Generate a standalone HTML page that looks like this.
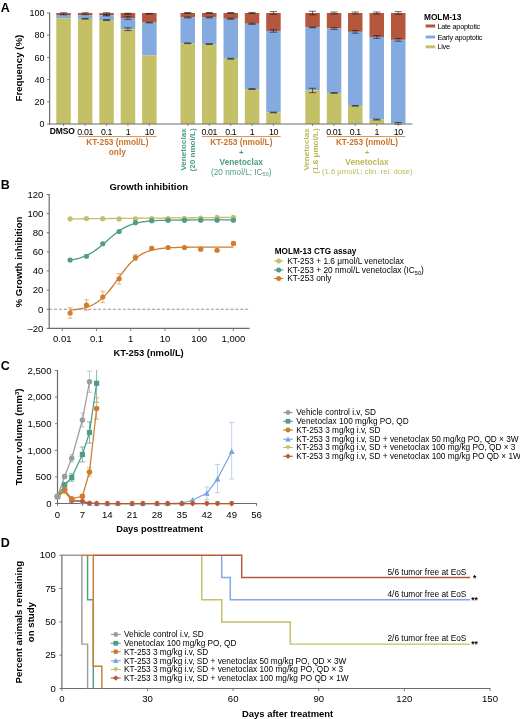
<!DOCTYPE html>
<html lang="en">
<head>
<meta charset="utf-8">
<title>KT-253 and venetoclax combination in MOLM-13</title>
<style>
html,body{margin:0;padding:0;background:#fff;}
body{width:520px;height:719px;overflow:hidden;}
svg{display:block;}
svg text{font-family:"Liberation Sans",Arial,Helvetica,sans-serif;}
</style>
</head>
<body>
<svg width="520" height="719" viewBox="0 0 520 719">
<rect x="0" y="0" width="520" height="719" fill="#ffffff"/>
<g id="panelA">
<text x="0.80" y="11.70" font-size="12.5" font-weight="bold" fill="#000" text-anchor="start">A</text>
<rect x="56.30" y="13.00" width="14.5" height="2.00" fill="#B4573C"/>
<rect x="56.30" y="15.00" width="14.5" height="3.22" fill="#85AAE0"/>
<rect x="56.30" y="18.22" width="14.5" height="105.78" fill="#C4C068"/>
<line x1="63.55" y1="12.78" x2="63.55" y2="14.78" stroke="#222" stroke-width="0.7"/>
<line x1="59.95" y1="12.78" x2="67.15" y2="12.78" stroke="#222" stroke-width="0.7"/>
<line x1="59.95" y1="14.78" x2="67.15" y2="14.78" stroke="#222" stroke-width="0.7"/>
<line x1="63.55" y1="124.00" x2="63.55" y2="126.00" stroke="#6c6c6c" stroke-width="0.8"/>
<rect x="77.90" y="13.00" width="14.5" height="2.22" fill="#B4573C"/>
<rect x="77.90" y="15.22" width="14.5" height="3.55" fill="#85AAE0"/>
<rect x="77.90" y="18.77" width="14.5" height="105.23" fill="#C4C068"/>
<line x1="85.15" y1="18.44" x2="85.15" y2="19.10" stroke="#222" stroke-width="0.7"/>
<line x1="81.55" y1="18.44" x2="88.75" y2="18.44" stroke="#222" stroke-width="0.7"/>
<line x1="81.55" y1="19.10" x2="88.75" y2="19.10" stroke="#222" stroke-width="0.7"/>
<line x1="85.15" y1="12.78" x2="85.15" y2="14.78" stroke="#222" stroke-width="0.7"/>
<line x1="81.55" y1="12.78" x2="88.75" y2="12.78" stroke="#222" stroke-width="0.7"/>
<line x1="81.55" y1="14.78" x2="88.75" y2="14.78" stroke="#222" stroke-width="0.7"/>
<line x1="85.15" y1="124.00" x2="85.15" y2="126.00" stroke="#6c6c6c" stroke-width="0.8"/>
<rect x="99.30" y="13.00" width="14.5" height="2.44" fill="#B4573C"/>
<rect x="99.30" y="15.44" width="14.5" height="4.66" fill="#85AAE0"/>
<rect x="99.30" y="20.10" width="14.5" height="103.90" fill="#C4C068"/>
<line x1="106.55" y1="19.66" x2="106.55" y2="20.55" stroke="#222" stroke-width="0.7"/>
<line x1="102.95" y1="19.66" x2="110.15" y2="19.66" stroke="#222" stroke-width="0.7"/>
<line x1="102.95" y1="20.55" x2="110.15" y2="20.55" stroke="#222" stroke-width="0.7"/>
<line x1="106.55" y1="15.00" x2="106.55" y2="15.89" stroke="#222" stroke-width="0.7"/>
<line x1="102.95" y1="15.00" x2="110.15" y2="15.00" stroke="#222" stroke-width="0.7"/>
<line x1="102.95" y1="15.89" x2="110.15" y2="15.89" stroke="#222" stroke-width="0.7"/>
<line x1="106.55" y1="12.78" x2="106.55" y2="14.78" stroke="#222" stroke-width="0.7"/>
<line x1="102.95" y1="12.78" x2="110.15" y2="12.78" stroke="#222" stroke-width="0.7"/>
<line x1="102.95" y1="14.78" x2="110.15" y2="14.78" stroke="#222" stroke-width="0.7"/>
<line x1="106.55" y1="124.00" x2="106.55" y2="126.00" stroke="#6c6c6c" stroke-width="0.8"/>
<rect x="120.70" y="13.00" width="14.5" height="5.00" fill="#B4573C"/>
<rect x="120.70" y="17.99" width="14.5" height="11.21" fill="#85AAE0"/>
<rect x="120.70" y="29.21" width="14.5" height="94.79" fill="#C4C068"/>
<line x1="127.95" y1="27.87" x2="127.95" y2="30.54" stroke="#222" stroke-width="0.7"/>
<line x1="124.35" y1="27.87" x2="131.55" y2="27.87" stroke="#222" stroke-width="0.7"/>
<line x1="124.35" y1="30.54" x2="131.55" y2="30.54" stroke="#222" stroke-width="0.7"/>
<line x1="127.95" y1="16.66" x2="127.95" y2="19.33" stroke="#222" stroke-width="0.7"/>
<line x1="124.35" y1="16.66" x2="131.55" y2="16.66" stroke="#222" stroke-width="0.7"/>
<line x1="124.35" y1="19.33" x2="131.55" y2="19.33" stroke="#222" stroke-width="0.7"/>
<line x1="127.95" y1="13.22" x2="127.95" y2="14.33" stroke="#222" stroke-width="0.7"/>
<line x1="124.35" y1="13.22" x2="131.55" y2="13.22" stroke="#222" stroke-width="0.7"/>
<line x1="124.35" y1="14.33" x2="131.55" y2="14.33" stroke="#222" stroke-width="0.7"/>
<line x1="127.95" y1="124.00" x2="127.95" y2="126.00" stroke="#6c6c6c" stroke-width="0.8"/>
<rect x="142.10" y="13.00" width="14.5" height="9.55" fill="#B4573C"/>
<rect x="142.10" y="22.55" width="14.5" height="32.97" fill="#85AAE0"/>
<rect x="142.10" y="55.51" width="14.5" height="68.49" fill="#C4C068"/>
<line x1="149.35" y1="22.21" x2="149.35" y2="22.88" stroke="#222" stroke-width="0.7"/>
<line x1="145.75" y1="22.21" x2="152.95" y2="22.21" stroke="#222" stroke-width="0.7"/>
<line x1="145.75" y1="22.88" x2="152.95" y2="22.88" stroke="#222" stroke-width="0.7"/>
<line x1="149.35" y1="13.44" x2="149.35" y2="14.11" stroke="#222" stroke-width="0.7"/>
<line x1="145.75" y1="13.44" x2="152.95" y2="13.44" stroke="#222" stroke-width="0.7"/>
<line x1="145.75" y1="14.11" x2="152.95" y2="14.11" stroke="#222" stroke-width="0.7"/>
<line x1="149.35" y1="124.00" x2="149.35" y2="126.00" stroke="#6c6c6c" stroke-width="0.8"/>
<rect x="180.50" y="13.00" width="14.5" height="4.44" fill="#B4573C"/>
<rect x="180.50" y="17.44" width="14.5" height="25.86" fill="#85AAE0"/>
<rect x="180.50" y="43.30" width="14.5" height="80.70" fill="#C4C068"/>
<line x1="187.75" y1="42.97" x2="187.75" y2="43.64" stroke="#222" stroke-width="0.7"/>
<line x1="184.15" y1="42.97" x2="191.35" y2="42.97" stroke="#222" stroke-width="0.7"/>
<line x1="184.15" y1="43.64" x2="191.35" y2="43.64" stroke="#222" stroke-width="0.7"/>
<line x1="187.75" y1="17.00" x2="187.75" y2="17.88" stroke="#222" stroke-width="0.7"/>
<line x1="184.15" y1="17.00" x2="191.35" y2="17.00" stroke="#222" stroke-width="0.7"/>
<line x1="184.15" y1="17.88" x2="191.35" y2="17.88" stroke="#222" stroke-width="0.7"/>
<line x1="187.75" y1="12.56" x2="187.75" y2="13.44" stroke="#222" stroke-width="0.7"/>
<line x1="184.15" y1="12.56" x2="191.35" y2="12.56" stroke="#222" stroke-width="0.7"/>
<line x1="184.15" y1="13.44" x2="191.35" y2="13.44" stroke="#222" stroke-width="0.7"/>
<line x1="187.75" y1="124.00" x2="187.75" y2="126.00" stroke="#6c6c6c" stroke-width="0.8"/>
<rect x="202.00" y="13.00" width="14.5" height="4.44" fill="#B4573C"/>
<rect x="202.00" y="17.44" width="14.5" height="26.64" fill="#85AAE0"/>
<rect x="202.00" y="44.08" width="14.5" height="79.92" fill="#C4C068"/>
<line x1="209.25" y1="43.75" x2="209.25" y2="44.41" stroke="#222" stroke-width="0.7"/>
<line x1="205.65" y1="43.75" x2="212.85" y2="43.75" stroke="#222" stroke-width="0.7"/>
<line x1="205.65" y1="44.41" x2="212.85" y2="44.41" stroke="#222" stroke-width="0.7"/>
<line x1="209.25" y1="17.00" x2="209.25" y2="17.88" stroke="#222" stroke-width="0.7"/>
<line x1="205.65" y1="17.00" x2="212.85" y2="17.00" stroke="#222" stroke-width="0.7"/>
<line x1="205.65" y1="17.88" x2="212.85" y2="17.88" stroke="#222" stroke-width="0.7"/>
<line x1="209.25" y1="12.56" x2="209.25" y2="13.44" stroke="#222" stroke-width="0.7"/>
<line x1="205.65" y1="12.56" x2="212.85" y2="12.56" stroke="#222" stroke-width="0.7"/>
<line x1="205.65" y1="13.44" x2="212.85" y2="13.44" stroke="#222" stroke-width="0.7"/>
<line x1="209.25" y1="124.00" x2="209.25" y2="126.00" stroke="#6c6c6c" stroke-width="0.8"/>
<rect x="223.50" y="13.00" width="14.5" height="5.77" fill="#B4573C"/>
<rect x="223.50" y="18.77" width="14.5" height="39.96" fill="#85AAE0"/>
<rect x="223.50" y="58.73" width="14.5" height="65.27" fill="#C4C068"/>
<line x1="230.75" y1="58.29" x2="230.75" y2="59.18" stroke="#222" stroke-width="0.7"/>
<line x1="227.15" y1="58.29" x2="234.35" y2="58.29" stroke="#222" stroke-width="0.7"/>
<line x1="227.15" y1="59.18" x2="234.35" y2="59.18" stroke="#222" stroke-width="0.7"/>
<line x1="230.75" y1="18.33" x2="230.75" y2="19.22" stroke="#222" stroke-width="0.7"/>
<line x1="227.15" y1="18.33" x2="234.35" y2="18.33" stroke="#222" stroke-width="0.7"/>
<line x1="227.15" y1="19.22" x2="234.35" y2="19.22" stroke="#222" stroke-width="0.7"/>
<line x1="230.75" y1="12.56" x2="230.75" y2="13.44" stroke="#222" stroke-width="0.7"/>
<line x1="227.15" y1="12.56" x2="234.35" y2="12.56" stroke="#222" stroke-width="0.7"/>
<line x1="227.15" y1="13.44" x2="234.35" y2="13.44" stroke="#222" stroke-width="0.7"/>
<line x1="230.75" y1="124.00" x2="230.75" y2="126.00" stroke="#6c6c6c" stroke-width="0.8"/>
<rect x="244.80" y="13.00" width="14.5" height="10.77" fill="#B4573C"/>
<rect x="244.80" y="23.77" width="14.5" height="65.27" fill="#85AAE0"/>
<rect x="244.80" y="89.03" width="14.5" height="34.97" fill="#C4C068"/>
<line x1="252.05" y1="88.70" x2="252.05" y2="89.37" stroke="#222" stroke-width="0.7"/>
<line x1="248.45" y1="88.70" x2="255.65" y2="88.70" stroke="#222" stroke-width="0.7"/>
<line x1="248.45" y1="89.37" x2="255.65" y2="89.37" stroke="#222" stroke-width="0.7"/>
<line x1="252.05" y1="23.21" x2="252.05" y2="24.32" stroke="#222" stroke-width="0.7"/>
<line x1="248.45" y1="23.21" x2="255.65" y2="23.21" stroke="#222" stroke-width="0.7"/>
<line x1="248.45" y1="24.32" x2="255.65" y2="24.32" stroke="#222" stroke-width="0.7"/>
<line x1="252.05" y1="12.44" x2="252.05" y2="13.55" stroke="#222" stroke-width="0.7"/>
<line x1="248.45" y1="12.44" x2="255.65" y2="12.44" stroke="#222" stroke-width="0.7"/>
<line x1="248.45" y1="13.55" x2="255.65" y2="13.55" stroke="#222" stroke-width="0.7"/>
<line x1="252.05" y1="124.00" x2="252.05" y2="126.00" stroke="#6c6c6c" stroke-width="0.8"/>
<rect x="266.20" y="13.00" width="14.5" height="17.98" fill="#B4573C"/>
<rect x="266.20" y="30.98" width="14.5" height="81.47" fill="#85AAE0"/>
<rect x="266.20" y="112.46" width="14.5" height="11.54" fill="#C4C068"/>
<line x1="273.45" y1="112.12" x2="273.45" y2="112.79" stroke="#222" stroke-width="0.7"/>
<line x1="269.85" y1="112.12" x2="277.05" y2="112.12" stroke="#222" stroke-width="0.7"/>
<line x1="269.85" y1="112.79" x2="277.05" y2="112.79" stroke="#222" stroke-width="0.7"/>
<line x1="273.45" y1="29.76" x2="273.45" y2="32.20" stroke="#222" stroke-width="0.7"/>
<line x1="269.85" y1="29.76" x2="277.05" y2="29.76" stroke="#222" stroke-width="0.7"/>
<line x1="269.85" y1="32.20" x2="277.05" y2="32.20" stroke="#222" stroke-width="0.7"/>
<line x1="273.45" y1="11.67" x2="273.45" y2="14.33" stroke="#222" stroke-width="0.7"/>
<line x1="269.85" y1="11.67" x2="277.05" y2="11.67" stroke="#222" stroke-width="0.7"/>
<line x1="269.85" y1="14.33" x2="277.05" y2="14.33" stroke="#222" stroke-width="0.7"/>
<line x1="273.45" y1="124.00" x2="273.45" y2="126.00" stroke="#6c6c6c" stroke-width="0.8"/>
<rect x="305.30" y="13.00" width="14.5" height="14.43" fill="#B4573C"/>
<rect x="305.30" y="27.43" width="14.5" height="63.05" fill="#85AAE0"/>
<rect x="305.30" y="90.48" width="14.5" height="33.52" fill="#C4C068"/>
<line x1="312.55" y1="88.26" x2="312.55" y2="92.70" stroke="#222" stroke-width="0.7"/>
<line x1="308.95" y1="88.26" x2="316.15" y2="88.26" stroke="#222" stroke-width="0.7"/>
<line x1="308.95" y1="92.70" x2="316.15" y2="92.70" stroke="#222" stroke-width="0.7"/>
<line x1="312.55" y1="27.10" x2="312.55" y2="27.76" stroke="#222" stroke-width="0.7"/>
<line x1="308.95" y1="27.10" x2="316.15" y2="27.10" stroke="#222" stroke-width="0.7"/>
<line x1="308.95" y1="27.76" x2="316.15" y2="27.76" stroke="#222" stroke-width="0.7"/>
<line x1="312.55" y1="11.22" x2="312.55" y2="14.78" stroke="#222" stroke-width="0.7"/>
<line x1="308.95" y1="11.22" x2="316.15" y2="11.22" stroke="#222" stroke-width="0.7"/>
<line x1="308.95" y1="14.78" x2="316.15" y2="14.78" stroke="#222" stroke-width="0.7"/>
<line x1="312.55" y1="124.00" x2="312.55" y2="126.00" stroke="#6c6c6c" stroke-width="0.8"/>
<rect x="326.80" y="13.00" width="14.5" height="15.54" fill="#B4573C"/>
<rect x="326.80" y="28.54" width="14.5" height="64.38" fill="#85AAE0"/>
<rect x="326.80" y="92.92" width="14.5" height="31.08" fill="#C4C068"/>
<line x1="334.05" y1="92.59" x2="334.05" y2="93.25" stroke="#222" stroke-width="0.7"/>
<line x1="330.45" y1="92.59" x2="337.65" y2="92.59" stroke="#222" stroke-width="0.7"/>
<line x1="330.45" y1="93.25" x2="337.65" y2="93.25" stroke="#222" stroke-width="0.7"/>
<line x1="334.05" y1="27.65" x2="334.05" y2="29.43" stroke="#222" stroke-width="0.7"/>
<line x1="330.45" y1="27.65" x2="337.65" y2="27.65" stroke="#222" stroke-width="0.7"/>
<line x1="330.45" y1="29.43" x2="337.65" y2="29.43" stroke="#222" stroke-width="0.7"/>
<line x1="334.05" y1="12.00" x2="334.05" y2="14.00" stroke="#222" stroke-width="0.7"/>
<line x1="330.45" y1="12.00" x2="337.65" y2="12.00" stroke="#222" stroke-width="0.7"/>
<line x1="330.45" y1="14.00" x2="337.65" y2="14.00" stroke="#222" stroke-width="0.7"/>
<line x1="334.05" y1="124.00" x2="334.05" y2="126.00" stroke="#6c6c6c" stroke-width="0.8"/>
<rect x="348.00" y="13.00" width="14.5" height="18.87" fill="#B4573C"/>
<rect x="348.00" y="31.87" width="14.5" height="73.93" fill="#85AAE0"/>
<rect x="348.00" y="105.80" width="14.5" height="18.20" fill="#C4C068"/>
<line x1="355.25" y1="105.46" x2="355.25" y2="106.13" stroke="#222" stroke-width="0.7"/>
<line x1="351.65" y1="105.46" x2="358.85" y2="105.46" stroke="#222" stroke-width="0.7"/>
<line x1="351.65" y1="106.13" x2="358.85" y2="106.13" stroke="#222" stroke-width="0.7"/>
<line x1="355.25" y1="30.54" x2="355.25" y2="33.20" stroke="#222" stroke-width="0.7"/>
<line x1="351.65" y1="30.54" x2="358.85" y2="30.54" stroke="#222" stroke-width="0.7"/>
<line x1="351.65" y1="33.20" x2="358.85" y2="33.20" stroke="#222" stroke-width="0.7"/>
<line x1="355.25" y1="12.00" x2="355.25" y2="14.00" stroke="#222" stroke-width="0.7"/>
<line x1="351.65" y1="12.00" x2="358.85" y2="12.00" stroke="#222" stroke-width="0.7"/>
<line x1="351.65" y1="14.00" x2="358.85" y2="14.00" stroke="#222" stroke-width="0.7"/>
<line x1="355.25" y1="124.00" x2="355.25" y2="126.00" stroke="#6c6c6c" stroke-width="0.8"/>
<rect x="369.50" y="13.00" width="14.5" height="23.98" fill="#B4573C"/>
<rect x="369.50" y="36.98" width="14.5" height="82.58" fill="#85AAE0"/>
<rect x="369.50" y="119.56" width="14.5" height="4.44" fill="#C4C068"/>
<line x1="376.75" y1="119.12" x2="376.75" y2="120.00" stroke="#222" stroke-width="0.7"/>
<line x1="373.15" y1="119.12" x2="380.35" y2="119.12" stroke="#222" stroke-width="0.7"/>
<line x1="373.15" y1="120.00" x2="380.35" y2="120.00" stroke="#222" stroke-width="0.7"/>
<line x1="376.75" y1="35.64" x2="376.75" y2="38.31" stroke="#222" stroke-width="0.7"/>
<line x1="373.15" y1="35.64" x2="380.35" y2="35.64" stroke="#222" stroke-width="0.7"/>
<line x1="373.15" y1="38.31" x2="380.35" y2="38.31" stroke="#222" stroke-width="0.7"/>
<line x1="376.75" y1="12.00" x2="376.75" y2="14.00" stroke="#222" stroke-width="0.7"/>
<line x1="373.15" y1="12.00" x2="380.35" y2="12.00" stroke="#222" stroke-width="0.7"/>
<line x1="373.15" y1="14.00" x2="380.35" y2="14.00" stroke="#222" stroke-width="0.7"/>
<line x1="376.75" y1="124.00" x2="376.75" y2="126.00" stroke="#6c6c6c" stroke-width="0.8"/>
<rect x="391.00" y="13.00" width="14.5" height="26.86" fill="#B4573C"/>
<rect x="391.00" y="39.86" width="14.5" height="83.58" fill="#85AAE0"/>
<rect x="391.00" y="123.44" width="14.5" height="0.56" fill="#C4C068"/>
<line x1="398.25" y1="122.56" x2="398.25" y2="124.33" stroke="#222" stroke-width="0.7"/>
<line x1="394.65" y1="122.56" x2="401.85" y2="122.56" stroke="#222" stroke-width="0.7"/>
<line x1="394.65" y1="124.33" x2="401.85" y2="124.33" stroke="#222" stroke-width="0.7"/>
<line x1="398.25" y1="38.53" x2="398.25" y2="41.19" stroke="#222" stroke-width="0.7"/>
<line x1="394.65" y1="38.53" x2="401.85" y2="38.53" stroke="#222" stroke-width="0.7"/>
<line x1="394.65" y1="41.19" x2="401.85" y2="41.19" stroke="#222" stroke-width="0.7"/>
<line x1="398.25" y1="11.67" x2="398.25" y2="14.33" stroke="#222" stroke-width="0.7"/>
<line x1="394.65" y1="11.67" x2="401.85" y2="11.67" stroke="#222" stroke-width="0.7"/>
<line x1="394.65" y1="14.33" x2="401.85" y2="14.33" stroke="#222" stroke-width="0.7"/>
<line x1="398.25" y1="124.00" x2="398.25" y2="126.00" stroke="#6c6c6c" stroke-width="0.8"/>
<line x1="49.60" y1="12.50" x2="49.60" y2="124.50" stroke="#6c6c6c" stroke-width="1.2"/>
<line x1="49.10" y1="124.00" x2="412.50" y2="124.00" stroke="#6c6c6c" stroke-width="1.2"/>
<line x1="47.00" y1="124.00" x2="49.60" y2="124.00" stroke="#6c6c6c" stroke-width="0.9"/>
<text x="44.60" y="127.20" font-size="9" font-weight="normal" fill="#000" text-anchor="end">0</text>
<line x1="47.00" y1="101.80" x2="49.60" y2="101.80" stroke="#6c6c6c" stroke-width="0.9"/>
<text x="44.60" y="105.00" font-size="9" font-weight="normal" fill="#000" text-anchor="end">20</text>
<line x1="47.00" y1="79.60" x2="49.60" y2="79.60" stroke="#6c6c6c" stroke-width="0.9"/>
<text x="44.60" y="82.80" font-size="9" font-weight="normal" fill="#000" text-anchor="end">40</text>
<line x1="47.00" y1="57.40" x2="49.60" y2="57.40" stroke="#6c6c6c" stroke-width="0.9"/>
<text x="44.60" y="60.60" font-size="9" font-weight="normal" fill="#000" text-anchor="end">60</text>
<line x1="47.00" y1="35.20" x2="49.60" y2="35.20" stroke="#6c6c6c" stroke-width="0.9"/>
<text x="44.60" y="38.40" font-size="9" font-weight="normal" fill="#000" text-anchor="end">80</text>
<line x1="47.00" y1="13.00" x2="49.60" y2="13.00" stroke="#6c6c6c" stroke-width="0.9"/>
<text x="44.60" y="16.20" font-size="9" font-weight="normal" fill="#000" text-anchor="end">100</text>
<text transform="translate(22.40,68.10) rotate(-90)" font-size="9.7" font-weight="bold" fill="#000" text-anchor="middle">Frequency (%)</text>
<text x="62.25" y="134.20" font-size="8.5" font-weight="bold" fill="#000" text-anchor="middle" letter-spacing="-0.1">DMSO</text>
<text x="85.15" y="134.60" font-size="8.8" font-weight="normal" fill="#000" text-anchor="middle" letter-spacing="-0.35">0.01</text>
<text x="106.55" y="134.60" font-size="8.8" font-weight="normal" fill="#000" text-anchor="middle" letter-spacing="-0.35">0.1</text>
<text x="127.95" y="134.60" font-size="8.8" font-weight="normal" fill="#000" text-anchor="middle" letter-spacing="-0.35">1</text>
<text x="149.35" y="134.60" font-size="8.8" font-weight="normal" fill="#000" text-anchor="middle" letter-spacing="-0.35">10</text>
<text x="209.25" y="134.60" font-size="8.8" font-weight="normal" fill="#000" text-anchor="middle" letter-spacing="-0.35">0.01</text>
<text x="230.75" y="134.60" font-size="8.8" font-weight="normal" fill="#000" text-anchor="middle" letter-spacing="-0.35">0.1</text>
<text x="252.05" y="134.60" font-size="8.8" font-weight="normal" fill="#000" text-anchor="middle" letter-spacing="-0.35">1</text>
<text x="273.45" y="134.60" font-size="8.8" font-weight="normal" fill="#000" text-anchor="middle" letter-spacing="-0.35">10</text>
<text x="334.05" y="134.60" font-size="8.8" font-weight="normal" fill="#000" text-anchor="middle" letter-spacing="-0.35">0.01</text>
<text x="355.25" y="134.60" font-size="8.8" font-weight="normal" fill="#000" text-anchor="middle" letter-spacing="-0.35">0.1</text>
<text x="376.75" y="134.60" font-size="8.8" font-weight="normal" fill="#000" text-anchor="middle" letter-spacing="-0.35">1</text>
<text x="398.25" y="134.60" font-size="8.8" font-weight="normal" fill="#000" text-anchor="middle" letter-spacing="-0.35">10</text>
<line x1="78.00" y1="136.60" x2="156.60" y2="136.60" stroke="#C8742B" stroke-width="0.8"/>
<text x="117.30" y="145.30" font-size="8.3" font-weight="bold" fill="#C8742B" text-anchor="middle">KT-253 (nmol/L)</text>
<text x="117.30" y="154.90" font-size="8.3" font-weight="bold" fill="#C8742B" text-anchor="middle">only</text>
<text transform="translate(185.50,128.30) rotate(-90)" font-size="8.1" font-weight="bold" fill="#4F9C88" text-anchor="end">Venetoclax</text>
<text transform="translate(194.80,128.30) rotate(-90)" font-size="8.1" font-weight="bold" fill="#4F9C88" text-anchor="end">(20 nmol/L)</text>
<line x1="202.00" y1="136.60" x2="280.60" y2="136.60" stroke="#C8742B" stroke-width="0.8"/>
<text x="241.30" y="145.30" font-size="8.3" font-weight="bold" fill="#C8742B" text-anchor="middle">KT-253 (nmol/L)</text>
<text x="241.30" y="155.40" font-size="8" font-weight="bold" fill="#4F9C88" text-anchor="middle">+</text>
<text x="241.30" y="164.60" font-size="8.3" font-weight="bold" fill="#4F9C88" text-anchor="middle">Venetoclax</text>
<text x="241.30" y="174.80" font-size="8.2" font-weight="normal" fill="#4F9C88" text-anchor="middle">(20 nmol/L; IC<tspan font-size="5.6" dy="1.6">50</tspan><tspan dy="-1.6">)</tspan></text>
<text transform="translate(308.70,128.30) rotate(-90)" font-size="8.1" font-weight="bold" fill="#BDB95A" text-anchor="end">Venetoclax</text>
<text transform="translate(318.20,128.30) rotate(-90)" font-size="8.1" font-weight="bold" fill="#BDB95A" text-anchor="end">(1.6 μmol/L)</text>
<line x1="327.00" y1="136.60" x2="405.30" y2="136.60" stroke="#C8742B" stroke-width="0.8"/>
<text x="367.00" y="145.30" font-size="8.3" font-weight="bold" fill="#C8742B" text-anchor="middle">KT-253 (nmol/L)</text>
<text x="367.00" y="155.40" font-size="8" font-weight="bold" fill="#BDB95A" text-anchor="middle">+</text>
<text x="367.00" y="164.60" font-size="8.3" font-weight="bold" fill="#BDB95A" text-anchor="middle">Venetoclax</text>
<text x="367.30" y="174.20" font-size="7.7" font-weight="normal" fill="#BDB95A" text-anchor="middle">(1.6 μmol/L; clin. rel. dose)</text>
<text x="424.00" y="20.00" font-size="8.3" font-weight="bold" fill="#000" text-anchor="start">MOLM-13</text>
<rect x="425.6" y="24.50" width="9.6" height="3" fill="#B4573C"/>
<text x="437.40" y="28.60" font-size="7.3" font-weight="normal" fill="#000" text-anchor="start" letter-spacing="-0.23">Late apoptotic</text>
<rect x="425.6" y="35.50" width="9.6" height="3" fill="#85AAE0"/>
<text x="437.40" y="39.60" font-size="7.3" font-weight="normal" fill="#000" text-anchor="start" letter-spacing="-0.23">Early apoptotic</text>
<rect x="425.6" y="45.30" width="9.6" height="3" fill="#C4C068"/>
<text x="437.40" y="49.40" font-size="7.3" font-weight="normal" fill="#000" text-anchor="start" letter-spacing="-0.23">Live</text>
</g>
<g id="panelB">
<text x="0.70" y="189.40" font-size="12.5" font-weight="bold" fill="#000" text-anchor="start">B</text>
<line x1="49.20" y1="194.00" x2="49.20" y2="328.88" stroke="#6c6c6c" stroke-width="1.2"/>
<line x1="48.70" y1="328.38" x2="249.60" y2="328.38" stroke="#6c6c6c" stroke-width="1.2"/>
<line x1="46.60" y1="328.38" x2="49.20" y2="328.38" stroke="#6c6c6c" stroke-width="0.9"/>
<text x="43.30" y="331.68" font-size="9.5" font-weight="normal" fill="#000" text-anchor="end">–20</text>
<line x1="46.60" y1="309.25" x2="49.20" y2="309.25" stroke="#6c6c6c" stroke-width="0.9"/>
<text x="43.30" y="312.55" font-size="9.5" font-weight="normal" fill="#000" text-anchor="end">0</text>
<line x1="46.60" y1="290.12" x2="49.20" y2="290.12" stroke="#6c6c6c" stroke-width="0.9"/>
<text x="43.30" y="293.43" font-size="9.5" font-weight="normal" fill="#000" text-anchor="end">20</text>
<line x1="46.60" y1="271.00" x2="49.20" y2="271.00" stroke="#6c6c6c" stroke-width="0.9"/>
<text x="43.30" y="274.30" font-size="9.5" font-weight="normal" fill="#000" text-anchor="end">40</text>
<line x1="46.60" y1="251.88" x2="49.20" y2="251.88" stroke="#6c6c6c" stroke-width="0.9"/>
<text x="43.30" y="255.18" font-size="9.5" font-weight="normal" fill="#000" text-anchor="end">60</text>
<line x1="46.60" y1="232.75" x2="49.20" y2="232.75" stroke="#6c6c6c" stroke-width="0.9"/>
<text x="43.30" y="236.05" font-size="9.5" font-weight="normal" fill="#000" text-anchor="end">80</text>
<line x1="46.60" y1="213.62" x2="49.20" y2="213.62" stroke="#6c6c6c" stroke-width="0.9"/>
<text x="43.30" y="216.93" font-size="9.5" font-weight="normal" fill="#000" text-anchor="end">100</text>
<line x1="46.60" y1="194.50" x2="49.20" y2="194.50" stroke="#6c6c6c" stroke-width="0.9"/>
<text x="43.30" y="197.80" font-size="9.5" font-weight="normal" fill="#000" text-anchor="end">120</text>
<line x1="62.30" y1="328.38" x2="62.30" y2="330.98" stroke="#6c6c6c" stroke-width="0.9"/>
<text x="62.30" y="342.10" font-size="9.5" font-weight="normal" fill="#000" text-anchor="middle">0.01</text>
<line x1="96.52" y1="328.38" x2="96.52" y2="330.98" stroke="#6c6c6c" stroke-width="0.9"/>
<text x="96.52" y="342.10" font-size="9.5" font-weight="normal" fill="#000" text-anchor="middle">0.1</text>
<line x1="130.74" y1="328.38" x2="130.74" y2="330.98" stroke="#6c6c6c" stroke-width="0.9"/>
<text x="130.74" y="342.10" font-size="9.5" font-weight="normal" fill="#000" text-anchor="middle">1</text>
<line x1="164.96" y1="328.38" x2="164.96" y2="330.98" stroke="#6c6c6c" stroke-width="0.9"/>
<text x="164.96" y="342.10" font-size="9.5" font-weight="normal" fill="#000" text-anchor="middle">10</text>
<line x1="199.18" y1="328.38" x2="199.18" y2="330.98" stroke="#6c6c6c" stroke-width="0.9"/>
<text x="199.18" y="342.10" font-size="9.5" font-weight="normal" fill="#000" text-anchor="middle">100</text>
<line x1="233.40" y1="328.38" x2="233.40" y2="330.98" stroke="#6c6c6c" stroke-width="0.9"/>
<text x="233.40" y="342.10" font-size="9.5" font-weight="normal" fill="#000" text-anchor="middle">1,000</text>
<line x1="49.20" y1="309.25" x2="249.60" y2="309.25" stroke="#777" stroke-width="0.8" stroke-dasharray="3 1.9"/>
<text transform="translate(22.30,262.00) rotate(-90)" font-size="9.65" font-weight="bold" fill="#000" text-anchor="middle">% Growth inhibition</text>
<text x="148.80" y="189.80" font-size="9.5" font-weight="bold" fill="#000" text-anchor="middle">Growth inhibition</text>
<text x="148.60" y="356.40" font-size="9.4" font-weight="bold" fill="#000" text-anchor="middle">KT-253 (nmol/L)</text>
<polyline points="70.13,218.88 71.49,218.87 72.85,218.86 74.21,218.84 75.57,218.83 76.93,218.82 78.29,218.81 79.65,218.79 81.01,218.78 82.37,218.77 83.74,218.76 85.10,218.74 86.46,218.73 87.82,218.72 89.18,218.71 90.54,218.69 91.90,218.68 93.26,218.67 94.62,218.66 95.98,218.64 97.34,218.63 98.70,218.62 100.06,218.61 101.42,218.59 102.78,218.58 104.14,218.57 105.50,218.56 106.87,218.54 108.23,218.53 109.59,218.52 110.95,218.51 112.31,218.49 113.67,218.48 115.03,218.47 116.39,218.46 117.75,218.44 119.11,218.43 120.47,218.42 121.83,218.40 123.19,218.39 124.55,218.38 125.91,218.37 127.27,218.35 128.63,218.34 130.00,218.33 131.36,218.32 132.72,218.30 134.08,218.29 135.44,218.28 136.80,218.27 138.16,218.25 139.52,218.24 140.88,218.23 142.24,218.22 143.60,218.20 144.96,218.19 146.32,218.18 147.68,218.17 149.04,218.15 150.40,218.14 151.76,218.13 153.13,218.12 154.49,218.10 155.85,218.09 157.21,218.08 158.57,218.07 159.93,218.05 161.29,218.04 162.65,218.03 164.01,218.02 165.37,218.00 166.73,217.99 168.09,217.98 169.45,217.97 170.81,217.95 172.17,217.94 173.53,217.93 174.89,217.92 176.26,217.90 177.62,217.89 178.98,217.88 180.34,217.87 181.70,217.85 183.06,217.84 184.42,217.83 185.78,217.82 187.14,217.80 188.50,217.79 189.86,217.78 191.22,217.76 192.58,217.75 193.94,217.74 195.30,217.73 196.66,217.71 198.02,217.70 199.39,217.69 200.75,217.68 202.11,217.66 203.47,217.65 204.83,217.64 206.19,217.63 207.55,217.61 208.91,217.60 210.27,217.59 211.63,217.58 212.99,217.56 214.35,217.55 215.71,217.54 217.07,217.53 218.43,217.51 219.79,217.50 221.15,217.49 222.52,217.48 223.88,217.46 225.24,217.45 226.60,217.44 227.96,217.43 229.32,217.41 230.68,217.40 232.04,217.39 233.40,217.38" fill="none" stroke="#C4C068" stroke-width="1.3" stroke-linejoin="round"/>
<circle cx="70.13" cy="218.79" r="2.6" fill="#C4C068"/>
<circle cx="86.46" cy="218.60" r="2.6" fill="#C4C068"/>
<circle cx="102.78" cy="218.69" r="2.6" fill="#C4C068"/>
<circle cx="119.11" cy="218.88" r="2.6" fill="#C4C068"/>
<circle cx="135.44" cy="218.79" r="2.6" fill="#C4C068"/>
<circle cx="151.76" cy="218.50" r="2.6" fill="#C4C068"/>
<circle cx="168.09" cy="218.60" r="2.6" fill="#C4C068"/>
<circle cx="184.42" cy="218.41" r="2.6" fill="#C4C068"/>
<circle cx="200.75" cy="218.02" r="2.6" fill="#C4C068"/>
<circle cx="217.07" cy="217.45" r="2.6" fill="#C4C068"/>
<circle cx="233.40" cy="217.45" r="2.6" fill="#C4C068"/>
<polyline points="70.13,260.08 71.49,259.87 72.85,259.64 74.21,259.38 75.57,259.09 76.93,258.77 78.29,258.42 79.65,258.04 81.01,257.62 82.37,257.15 83.74,256.65 85.10,256.10 86.46,255.50 87.82,254.85 89.18,254.16 90.54,253.41 91.90,252.60 93.26,251.75 94.62,250.84 95.98,249.88 97.34,248.88 98.70,247.83 100.06,246.74 101.42,245.61 102.78,244.46 104.14,243.28 105.50,242.09 106.87,240.89 108.23,239.69 109.59,238.50 110.95,237.32 112.31,236.17 113.67,235.04 115.03,233.96 116.39,232.91 117.75,231.91 119.11,230.95 120.47,230.05 121.83,229.19 123.19,228.40 124.55,227.65 125.91,226.95 127.27,226.31 128.63,225.72 130.00,225.17 131.36,224.67 132.72,224.21 134.08,223.79 135.44,223.41 136.80,223.06 138.16,222.74 139.52,222.46 140.88,222.20 142.24,221.97 143.60,221.76 144.96,221.57 146.32,221.40 147.68,221.24 149.04,221.11 150.40,220.98 151.76,220.87 153.13,220.77 154.49,220.68 155.85,220.60 157.21,220.53 158.57,220.47 159.93,220.41 161.29,220.36 162.65,220.32 164.01,220.28 165.37,220.24 166.73,220.21 168.09,220.18 169.45,220.15 170.81,220.13 172.17,220.11 173.53,220.09 174.89,220.07 176.26,220.06 177.62,220.04 178.98,220.03 180.34,220.02 181.70,220.01 183.06,220.01 184.42,220.00 185.78,219.99 187.14,219.99 188.50,219.98 189.86,219.98 191.22,219.97 192.58,219.97 193.94,219.96 195.30,219.96 196.66,219.96 198.02,219.96 199.39,219.95 200.75,219.95 202.11,219.95 203.47,219.95 204.83,219.95 206.19,219.95 207.55,219.95 208.91,219.94 210.27,219.94 211.63,219.94 212.99,219.94 214.35,219.94 215.71,219.94 217.07,219.94 218.43,219.94 219.79,219.94 221.15,219.94 222.52,219.94 223.88,219.94 225.24,219.94 226.60,219.94 227.96,219.94 229.32,219.94 230.68,219.94 232.04,219.94 233.40,219.94" fill="none" stroke="#4F9C88" stroke-width="1.3" stroke-linejoin="round"/>
<line x1="70.13" y1="259.05" x2="70.13" y2="260.96" stroke="#4F9C88" stroke-width="0.7"/>
<circle cx="70.13" cy="260.00" r="2.6" fill="#4F9C88"/>
<line x1="86.46" y1="255.32" x2="86.46" y2="257.23" stroke="#4F9C88" stroke-width="0.7"/>
<circle cx="86.46" cy="256.27" r="2.6" fill="#4F9C88"/>
<line x1="102.78" y1="242.60" x2="102.78" y2="244.89" stroke="#4F9C88" stroke-width="0.7"/>
<circle cx="102.78" cy="243.75" r="2.6" fill="#4F9C88"/>
<line x1="119.11" y1="230.36" x2="119.11" y2="232.65" stroke="#4F9C88" stroke-width="0.7"/>
<circle cx="119.11" cy="231.51" r="2.6" fill="#4F9C88"/>
<line x1="135.44" y1="221.75" x2="135.44" y2="223.67" stroke="#4F9C88" stroke-width="0.7"/>
<circle cx="135.44" cy="222.71" r="2.6" fill="#4F9C88"/>
<circle cx="151.76" cy="220.70" r="2.6" fill="#4F9C88"/>
<circle cx="168.09" cy="220.32" r="2.6" fill="#4F9C88"/>
<circle cx="184.42" cy="220.32" r="2.6" fill="#4F9C88"/>
<circle cx="200.75" cy="220.22" r="2.6" fill="#4F9C88"/>
<circle cx="217.07" cy="220.13" r="2.6" fill="#4F9C88"/>
<circle cx="233.40" cy="220.13" r="2.6" fill="#4F9C88"/>
<polyline points="70.13,310.19 71.49,310.07 72.85,309.94 74.21,309.78 75.57,309.61 76.93,309.42 78.29,309.21 79.65,308.97 81.01,308.71 82.37,308.41 83.74,308.08 85.10,307.71 86.46,307.30 87.82,306.84 89.18,306.34 90.54,305.78 91.90,305.16 93.26,304.48 94.62,303.74 95.98,302.92 97.34,302.03 98.70,301.05 100.06,300.00 101.42,298.86 102.78,297.63 104.14,296.32 105.50,294.92 106.87,293.43 108.23,291.87 109.59,290.22 110.95,288.51 112.31,286.74 113.67,284.92 115.03,283.06 116.39,281.17 117.75,279.27 119.11,277.36 120.47,275.47 121.83,273.60 123.19,271.77 124.55,269.99 125.91,268.27 127.27,266.62 128.63,265.04 130.00,263.55 131.36,262.13 132.72,260.81 134.08,259.57 135.44,258.42 136.80,257.35 138.16,256.37 139.52,255.46 140.88,254.63 142.24,253.88 143.60,253.19 144.96,252.56 146.32,252.00 147.68,251.48 149.04,251.02 150.40,250.60 151.76,250.23 153.13,249.89 154.49,249.59 155.85,249.32 157.21,249.08 158.57,248.86 159.93,248.67 161.29,248.50 162.65,248.34 164.01,248.20 165.37,248.08 166.73,247.97 168.09,247.87 169.45,247.79 170.81,247.71 172.17,247.64 173.53,247.58 174.89,247.53 176.26,247.48 177.62,247.44 178.98,247.40 180.34,247.36 181.70,247.33 183.06,247.31 184.42,247.28 185.78,247.26 187.14,247.24 188.50,247.23 189.86,247.21 191.22,247.20 192.58,247.19 193.94,247.18 195.30,247.17 196.66,247.16 198.02,247.15 199.39,247.14 200.75,247.14 202.11,247.13 203.47,247.13 204.83,247.13 206.19,247.12 207.55,247.12 208.91,247.12 210.27,247.11 211.63,247.11 212.99,247.11 214.35,247.11 215.71,247.11 217.07,247.10 218.43,247.10 219.79,247.10 221.15,247.10 222.52,247.10 223.88,247.10 225.24,247.10 226.60,247.10 227.96,247.10 229.32,247.10 230.68,247.10 232.04,247.10 233.40,247.10" fill="none" stroke="#D07C2E" stroke-width="1.3" stroke-linejoin="round"/>
<line x1="70.13" y1="307.72" x2="70.13" y2="318.24" stroke="#E0A060" stroke-width="0.8"/>
<line x1="67.73" y1="307.72" x2="72.53" y2="307.72" stroke="#E0A060" stroke-width="0.8"/>
<line x1="67.73" y1="318.24" x2="72.53" y2="318.24" stroke="#E0A060" stroke-width="0.8"/>
<circle cx="70.13" cy="312.98" r="2.6" fill="#D07C2E"/>
<line x1="86.46" y1="299.78" x2="86.46" y2="310.30" stroke="#E0A060" stroke-width="0.8"/>
<line x1="84.06" y1="299.78" x2="88.86" y2="299.78" stroke="#E0A060" stroke-width="0.8"/>
<line x1="84.06" y1="310.30" x2="88.86" y2="310.30" stroke="#E0A060" stroke-width="0.8"/>
<circle cx="86.46" cy="305.04" r="2.6" fill="#D07C2E"/>
<line x1="102.78" y1="291.27" x2="102.78" y2="302.75" stroke="#E0A060" stroke-width="0.8"/>
<line x1="100.38" y1="291.27" x2="105.18" y2="291.27" stroke="#E0A060" stroke-width="0.8"/>
<line x1="100.38" y1="302.75" x2="105.18" y2="302.75" stroke="#E0A060" stroke-width="0.8"/>
<circle cx="102.78" cy="297.01" r="2.6" fill="#D07C2E"/>
<line x1="119.11" y1="273.49" x2="119.11" y2="284.00" stroke="#E0A060" stroke-width="0.8"/>
<line x1="116.71" y1="273.49" x2="121.51" y2="273.49" stroke="#E0A060" stroke-width="0.8"/>
<line x1="116.71" y1="284.00" x2="121.51" y2="284.00" stroke="#E0A060" stroke-width="0.8"/>
<circle cx="119.11" cy="278.75" r="2.6" fill="#D07C2E"/>
<line x1="135.44" y1="254.74" x2="135.44" y2="260.48" stroke="#E0A060" stroke-width="0.8"/>
<line x1="133.04" y1="254.74" x2="137.84" y2="254.74" stroke="#E0A060" stroke-width="0.8"/>
<line x1="133.04" y1="260.48" x2="137.84" y2="260.48" stroke="#E0A060" stroke-width="0.8"/>
<circle cx="135.44" cy="257.61" r="2.6" fill="#D07C2E"/>
<line x1="151.76" y1="247.09" x2="151.76" y2="249.39" stroke="#E0A060" stroke-width="0.8"/>
<line x1="149.36" y1="247.09" x2="154.16" y2="247.09" stroke="#E0A060" stroke-width="0.8"/>
<line x1="149.36" y1="249.39" x2="154.16" y2="249.39" stroke="#E0A060" stroke-width="0.8"/>
<circle cx="151.76" cy="248.24" r="2.6" fill="#D07C2E"/>
<line x1="168.09" y1="246.71" x2="168.09" y2="248.24" stroke="#E0A060" stroke-width="0.8"/>
<line x1="165.69" y1="246.71" x2="170.49" y2="246.71" stroke="#E0A060" stroke-width="0.8"/>
<line x1="165.69" y1="248.24" x2="170.49" y2="248.24" stroke="#E0A060" stroke-width="0.8"/>
<circle cx="168.09" cy="247.48" r="2.6" fill="#D07C2E"/>
<line x1="184.42" y1="246.71" x2="184.42" y2="248.24" stroke="#E0A060" stroke-width="0.8"/>
<line x1="182.02" y1="246.71" x2="186.82" y2="246.71" stroke="#E0A060" stroke-width="0.8"/>
<line x1="182.02" y1="248.24" x2="186.82" y2="248.24" stroke="#E0A060" stroke-width="0.8"/>
<circle cx="184.42" cy="247.48" r="2.6" fill="#D07C2E"/>
<line x1="200.75" y1="248.43" x2="200.75" y2="249.96" stroke="#E0A060" stroke-width="0.8"/>
<line x1="198.35" y1="248.43" x2="203.15" y2="248.43" stroke="#E0A060" stroke-width="0.8"/>
<line x1="198.35" y1="249.96" x2="203.15" y2="249.96" stroke="#E0A060" stroke-width="0.8"/>
<circle cx="200.75" cy="249.20" r="2.6" fill="#D07C2E"/>
<line x1="217.07" y1="249.48" x2="217.07" y2="251.01" stroke="#E0A060" stroke-width="0.8"/>
<line x1="214.67" y1="249.48" x2="219.47" y2="249.48" stroke="#E0A060" stroke-width="0.8"/>
<line x1="214.67" y1="251.01" x2="219.47" y2="251.01" stroke="#E0A060" stroke-width="0.8"/>
<circle cx="217.07" cy="250.25" r="2.6" fill="#D07C2E"/>
<line x1="233.40" y1="242.03" x2="233.40" y2="244.89" stroke="#E0A060" stroke-width="0.8"/>
<line x1="231.00" y1="242.03" x2="235.80" y2="242.03" stroke="#E0A060" stroke-width="0.8"/>
<line x1="231.00" y1="244.89" x2="235.80" y2="244.89" stroke="#E0A060" stroke-width="0.8"/>
<circle cx="233.40" cy="243.46" r="2.6" fill="#D07C2E"/>
<text x="274.80" y="253.70" font-size="8.2" font-weight="bold" fill="#000" text-anchor="start">MOLM-13 CTG assay</text>
<line x1="274.00" y1="261.10" x2="283.40" y2="261.10" stroke="#C4C068" stroke-width="1.1"/>
<circle cx="278.7" cy="261.1" r="2.5" fill="#C4C068"/>
<text x="287.20" y="264.00" font-size="8.3" font-weight="normal" fill="#000" text-anchor="start">KT-253 + 1.6 μmol/L venetoclax</text>
<line x1="274.00" y1="270.00" x2="283.40" y2="270.00" stroke="#4F9C88" stroke-width="1.1"/>
<circle cx="278.7" cy="270.0" r="2.5" fill="#4F9C88"/>
<text x="287.20" y="272.90" font-size="8.3" font-weight="normal" fill="#000" text-anchor="start">KT-253 + 20 nmol/L venetoclax (IC<tspan font-size="5.6" dy="1.6">50</tspan><tspan dy="-1.6">)</tspan></text>
<line x1="274.00" y1="278.50" x2="283.40" y2="278.50" stroke="#D07C2E" stroke-width="1.1"/>
<circle cx="278.7" cy="278.5" r="2.5" fill="#D07C2E"/>
<text x="287.20" y="281.40" font-size="8.3" font-weight="normal" fill="#000" text-anchor="start">KT-253 only</text>
</g>
<g id="panelC">
<text x="0.70" y="370.10" font-size="12.5" font-weight="bold" fill="#000" text-anchor="start">C</text>
<line x1="57.50" y1="370.00" x2="57.50" y2="504.00" stroke="#6c6c6c" stroke-width="1.2"/>
<line x1="57.00" y1="503.50" x2="256.80" y2="503.50" stroke="#6c6c6c" stroke-width="1.2"/>
<line x1="54.90" y1="503.50" x2="57.50" y2="503.50" stroke="#6c6c6c" stroke-width="0.9"/>
<text x="51.50" y="506.80" font-size="9.6" font-weight="normal" fill="#000" text-anchor="end">0</text>
<line x1="54.90" y1="476.90" x2="57.50" y2="476.90" stroke="#6c6c6c" stroke-width="0.9"/>
<text x="51.50" y="480.20" font-size="9.6" font-weight="normal" fill="#000" text-anchor="end">500</text>
<line x1="54.90" y1="450.30" x2="57.50" y2="450.30" stroke="#6c6c6c" stroke-width="0.9"/>
<text x="51.50" y="453.60" font-size="9.6" font-weight="normal" fill="#000" text-anchor="end">1,000</text>
<line x1="54.90" y1="423.70" x2="57.50" y2="423.70" stroke="#6c6c6c" stroke-width="0.9"/>
<text x="51.50" y="427.00" font-size="9.6" font-weight="normal" fill="#000" text-anchor="end">1,500</text>
<line x1="54.90" y1="397.10" x2="57.50" y2="397.10" stroke="#6c6c6c" stroke-width="0.9"/>
<text x="51.50" y="400.40" font-size="9.6" font-weight="normal" fill="#000" text-anchor="end">2,000</text>
<line x1="54.90" y1="370.50" x2="57.50" y2="370.50" stroke="#6c6c6c" stroke-width="0.9"/>
<text x="51.50" y="373.80" font-size="9.6" font-weight="normal" fill="#000" text-anchor="end">2,500</text>
<line x1="57.50" y1="503.50" x2="57.50" y2="506.10" stroke="#6c6c6c" stroke-width="0.9"/>
<text x="57.50" y="517.70" font-size="9.6" font-weight="normal" fill="#000" text-anchor="middle">0</text>
<line x1="82.39" y1="503.50" x2="82.39" y2="506.10" stroke="#6c6c6c" stroke-width="0.9"/>
<text x="82.39" y="517.70" font-size="9.6" font-weight="normal" fill="#000" text-anchor="middle">7</text>
<line x1="107.27" y1="503.50" x2="107.27" y2="506.10" stroke="#6c6c6c" stroke-width="0.9"/>
<text x="107.27" y="517.70" font-size="9.6" font-weight="normal" fill="#000" text-anchor="middle">14</text>
<line x1="132.16" y1="503.50" x2="132.16" y2="506.10" stroke="#6c6c6c" stroke-width="0.9"/>
<text x="132.16" y="517.70" font-size="9.6" font-weight="normal" fill="#000" text-anchor="middle">21</text>
<line x1="157.04" y1="503.50" x2="157.04" y2="506.10" stroke="#6c6c6c" stroke-width="0.9"/>
<text x="157.04" y="517.70" font-size="9.6" font-weight="normal" fill="#000" text-anchor="middle">28</text>
<line x1="181.93" y1="503.50" x2="181.93" y2="506.10" stroke="#6c6c6c" stroke-width="0.9"/>
<text x="181.93" y="517.70" font-size="9.6" font-weight="normal" fill="#000" text-anchor="middle">35</text>
<line x1="206.81" y1="503.50" x2="206.81" y2="506.10" stroke="#6c6c6c" stroke-width="0.9"/>
<text x="206.81" y="517.70" font-size="9.6" font-weight="normal" fill="#000" text-anchor="middle">42</text>
<line x1="231.70" y1="503.50" x2="231.70" y2="506.10" stroke="#6c6c6c" stroke-width="0.9"/>
<text x="231.70" y="517.70" font-size="9.6" font-weight="normal" fill="#000" text-anchor="middle">49</text>
<line x1="256.59" y1="503.50" x2="256.59" y2="506.10" stroke="#6c6c6c" stroke-width="0.9"/>
<text x="256.59" y="517.70" font-size="9.6" font-weight="normal" fill="#000" text-anchor="middle">56</text>
<text transform="translate(22.00,436.90) rotate(-90)" font-size="9.8" font-weight="bold" fill="#000" text-anchor="middle">Tumor volume (mm<tspan font-size="5.8" dy="-3.2">3</tspan><tspan dy="3.2">)</tspan></text>
<text x="159.60" y="531.50" font-size="9.3" font-weight="bold" fill="#000" text-anchor="middle">Days posttreatment</text>
<line x1="206.81" y1="487.01" x2="206.81" y2="499.51" stroke="#A9C6EC" stroke-width="0.8"/>
<line x1="204.21" y1="487.01" x2="209.41" y2="487.01" stroke="#A9C6EC" stroke-width="0.8"/>
<line x1="204.21" y1="499.51" x2="209.41" y2="499.51" stroke="#A9C6EC" stroke-width="0.8"/>
<line x1="217.48" y1="464.40" x2="217.48" y2="492.59" stroke="#A9C6EC" stroke-width="0.8"/>
<line x1="214.88" y1="464.40" x2="220.08" y2="464.40" stroke="#A9C6EC" stroke-width="0.8"/>
<line x1="214.88" y1="492.59" x2="220.08" y2="492.59" stroke="#A9C6EC" stroke-width="0.8"/>
<line x1="231.70" y1="422.64" x2="231.70" y2="479.03" stroke="#A9C6EC" stroke-width="0.8"/>
<line x1="229.10" y1="422.64" x2="234.30" y2="422.64" stroke="#A9C6EC" stroke-width="0.8"/>
<line x1="229.10" y1="479.03" x2="234.30" y2="479.03" stroke="#A9C6EC" stroke-width="0.8"/>
<polyline points="57.50,496.58 64.61,491.00 71.72,500.31 82.39,501.90 89.50,503.23 96.61,503.50 107.27,503.50 117.94,503.50 132.16,503.50 142.82,503.50 157.04,503.50 167.71,503.50 181.93,503.23 192.59,499.99 206.81,493.29 217.48,479.03 231.70,451.52" fill="none" stroke="#78A6DE" stroke-width="1.25" stroke-linejoin="round"/>
<polygon points="57.50,493.58 60.50,498.98 54.50,498.98" fill="#78A6DE"/>
<polygon points="64.61,488.00 67.61,493.40 61.61,493.40" fill="#78A6DE"/>
<polygon points="71.72,497.31 74.72,502.71 68.72,502.71" fill="#78A6DE"/>
<polygon points="82.39,498.90 85.39,504.30 79.39,504.30" fill="#78A6DE"/>
<polygon points="89.50,500.23 92.50,505.63 86.50,505.63" fill="#78A6DE"/>
<polygon points="96.61,500.50 99.61,505.90 93.61,505.90" fill="#78A6DE"/>
<polygon points="107.27,500.50 110.27,505.90 104.27,505.90" fill="#78A6DE"/>
<polygon points="117.94,500.50 120.94,505.90 114.94,505.90" fill="#78A6DE"/>
<polygon points="132.16,500.50 135.16,505.90 129.16,505.90" fill="#78A6DE"/>
<polygon points="142.82,500.50 145.82,505.90 139.82,505.90" fill="#78A6DE"/>
<polygon points="157.04,500.50 160.04,505.90 154.04,505.90" fill="#78A6DE"/>
<polygon points="167.71,500.50 170.71,505.90 164.71,505.90" fill="#78A6DE"/>
<polygon points="181.93,500.23 184.93,505.63 178.93,505.63" fill="#78A6DE"/>
<polygon points="192.59,496.99 195.59,502.39 189.59,502.39" fill="#78A6DE"/>
<polygon points="206.81,490.29 209.81,495.69 203.81,495.69" fill="#78A6DE"/>
<polygon points="217.48,476.03 220.48,481.43 214.48,481.43" fill="#78A6DE"/>
<polygon points="231.70,448.52 234.70,453.92 228.70,453.92" fill="#78A6DE"/>
<polyline points="57.50,496.58 64.61,492.06 71.72,499.78 82.39,501.64 89.50,503.23 96.61,503.50 107.27,503.50 117.94,503.50 132.16,503.50 142.82,503.50 157.04,503.50 167.71,503.50 181.93,503.50 192.59,503.50 206.81,503.50 217.48,503.50 231.70,503.50" fill="none" stroke="#C4C068" stroke-width="1.25" stroke-linejoin="round"/>
<polygon points="57.50,499.38 60.30,494.34 54.70,494.34" fill="#C4C068"/>
<polygon points="64.61,494.86 67.41,489.82 61.81,489.82" fill="#C4C068"/>
<polygon points="71.72,502.58 74.52,497.54 68.92,497.54" fill="#C4C068"/>
<polygon points="82.39,504.44 85.19,499.40 79.59,499.40" fill="#C4C068"/>
<polygon points="89.50,506.03 92.30,500.99 86.70,500.99" fill="#C4C068"/>
<polygon points="96.61,506.30 99.41,501.26 93.81,501.26" fill="#C4C068"/>
<polygon points="107.27,506.30 110.07,501.26 104.47,501.26" fill="#C4C068"/>
<polygon points="117.94,506.30 120.74,501.26 115.14,501.26" fill="#C4C068"/>
<polygon points="132.16,506.30 134.96,501.26 129.36,501.26" fill="#C4C068"/>
<polygon points="142.82,506.30 145.62,501.26 140.02,501.26" fill="#C4C068"/>
<polygon points="157.04,506.30 159.84,501.26 154.24,501.26" fill="#C4C068"/>
<polygon points="167.71,506.30 170.51,501.26 164.91,501.26" fill="#C4C068"/>
<polygon points="181.93,506.30 184.73,501.26 179.13,501.26" fill="#C4C068"/>
<polygon points="192.59,506.30 195.39,501.26 189.79,501.26" fill="#C4C068"/>
<polygon points="206.81,506.30 209.61,501.26 204.01,501.26" fill="#C4C068"/>
<polygon points="217.48,506.30 220.28,501.26 214.68,501.26" fill="#C4C068"/>
<polygon points="231.70,506.30 234.50,501.26 228.90,501.26" fill="#C4C068"/>
<polyline points="57.50,496.58 64.61,489.83 71.72,500.41 82.39,501.37 89.50,503.23 96.61,503.50 107.27,503.50 117.94,503.50 132.16,503.50 142.82,503.50 157.04,503.50 167.71,503.50 181.93,503.50 192.59,503.50 206.81,503.50 217.48,503.50 231.70,503.50" fill="none" stroke="#B4573C" stroke-width="1.25" stroke-linejoin="round"/>
<polygon points="57.50,493.58 60.50,496.58 57.50,499.58 54.50,496.58" fill="#B4573C"/>
<polygon points="64.61,486.83 67.61,489.83 64.61,492.83 61.61,489.83" fill="#B4573C"/>
<polygon points="71.72,497.41 74.72,500.41 71.72,503.41 68.72,500.41" fill="#B4573C"/>
<polygon points="82.39,498.37 85.39,501.37 82.39,504.37 79.39,501.37" fill="#B4573C"/>
<polygon points="89.50,500.23 92.50,503.23 89.50,506.23 86.50,503.23" fill="#B4573C"/>
<polygon points="96.61,500.50 99.61,503.50 96.61,506.50 93.61,503.50" fill="#B4573C"/>
<polygon points="107.27,500.50 110.27,503.50 107.27,506.50 104.27,503.50" fill="#B4573C"/>
<polygon points="117.94,500.50 120.94,503.50 117.94,506.50 114.94,503.50" fill="#B4573C"/>
<polygon points="132.16,500.50 135.16,503.50 132.16,506.50 129.16,503.50" fill="#B4573C"/>
<polygon points="142.82,500.50 145.82,503.50 142.82,506.50 139.82,503.50" fill="#B4573C"/>
<polygon points="157.04,500.50 160.04,503.50 157.04,506.50 154.04,503.50" fill="#B4573C"/>
<polygon points="167.71,500.50 170.71,503.50 167.71,506.50 164.71,503.50" fill="#B4573C"/>
<polygon points="181.93,500.50 184.93,503.50 181.93,506.50 178.93,503.50" fill="#B4573C"/>
<polygon points="192.59,500.50 195.59,503.50 192.59,506.50 189.59,503.50" fill="#B4573C"/>
<polygon points="206.81,500.50 209.81,503.50 206.81,506.50 203.81,503.50" fill="#B4573C"/>
<polygon points="217.48,500.50 220.48,503.50 217.48,506.50 214.48,503.50" fill="#B4573C"/>
<polygon points="231.70,500.50 234.70,503.50 231.70,506.50 228.70,503.50" fill="#B4573C"/>
<line x1="64.61" y1="474.40" x2="64.61" y2="478.66" stroke="#BDBDBD" stroke-width="0.8"/>
<line x1="62.01" y1="474.40" x2="67.21" y2="474.40" stroke="#BDBDBD" stroke-width="0.8"/>
<line x1="62.01" y1="478.66" x2="67.21" y2="478.66" stroke="#BDBDBD" stroke-width="0.8"/>
<line x1="71.72" y1="454.56" x2="71.72" y2="462.00" stroke="#BDBDBD" stroke-width="0.8"/>
<line x1="69.12" y1="454.56" x2="74.32" y2="454.56" stroke="#BDBDBD" stroke-width="0.8"/>
<line x1="69.12" y1="462.00" x2="74.32" y2="462.00" stroke="#BDBDBD" stroke-width="0.8"/>
<line x1="82.39" y1="413.06" x2="82.39" y2="426.89" stroke="#BDBDBD" stroke-width="0.8"/>
<line x1="79.79" y1="413.06" x2="84.99" y2="413.06" stroke="#BDBDBD" stroke-width="0.8"/>
<line x1="79.79" y1="426.89" x2="84.99" y2="426.89" stroke="#BDBDBD" stroke-width="0.8"/>
<line x1="89.50" y1="371.14" x2="89.50" y2="392.42" stroke="#BDBDBD" stroke-width="0.8"/>
<line x1="86.90" y1="371.14" x2="92.10" y2="371.14" stroke="#BDBDBD" stroke-width="0.8"/>
<line x1="86.90" y1="392.42" x2="92.10" y2="392.42" stroke="#BDBDBD" stroke-width="0.8"/>
<polyline points="57.50,496.58 64.61,476.53 71.72,458.28 82.39,419.98 89.50,381.78" fill="none" stroke="#9C9C9C" stroke-width="1.25" stroke-linejoin="round"/>
<circle cx="57.50" cy="496.58" r="2.75" fill="#9C9C9C"/>
<circle cx="64.61" cy="476.53" r="2.75" fill="#9C9C9C"/>
<circle cx="71.72" cy="458.28" r="2.75" fill="#9C9C9C"/>
<circle cx="82.39" cy="419.98" r="2.75" fill="#9C9C9C"/>
<circle cx="89.50" cy="381.78" r="2.75" fill="#9C9C9C"/>
<line x1="57.50" y1="494.99" x2="57.50" y2="498.18" stroke="#5FA893" stroke-width="0.8"/>
<line x1="54.90" y1="494.99" x2="60.10" y2="494.99" stroke="#5FA893" stroke-width="0.8"/>
<line x1="54.90" y1="498.18" x2="60.10" y2="498.18" stroke="#5FA893" stroke-width="0.8"/>
<line x1="64.61" y1="482.33" x2="64.61" y2="487.65" stroke="#5FA893" stroke-width="0.8"/>
<line x1="62.01" y1="482.33" x2="67.21" y2="482.33" stroke="#5FA893" stroke-width="0.8"/>
<line x1="62.01" y1="487.65" x2="67.21" y2="487.65" stroke="#5FA893" stroke-width="0.8"/>
<line x1="71.72" y1="473.76" x2="71.72" y2="481.21" stroke="#5FA893" stroke-width="0.8"/>
<line x1="69.12" y1="473.76" x2="74.32" y2="473.76" stroke="#5FA893" stroke-width="0.8"/>
<line x1="69.12" y1="481.21" x2="74.32" y2="481.21" stroke="#5FA893" stroke-width="0.8"/>
<line x1="82.39" y1="447.05" x2="82.39" y2="461.95" stroke="#5FA893" stroke-width="0.8"/>
<line x1="79.79" y1="447.05" x2="84.99" y2="447.05" stroke="#5FA893" stroke-width="0.8"/>
<line x1="79.79" y1="461.95" x2="84.99" y2="461.95" stroke="#5FA893" stroke-width="0.8"/>
<line x1="89.50" y1="421.84" x2="89.50" y2="443.12" stroke="#5FA893" stroke-width="0.8"/>
<line x1="86.90" y1="421.84" x2="92.10" y2="421.84" stroke="#5FA893" stroke-width="0.8"/>
<line x1="86.90" y1="443.12" x2="92.10" y2="443.12" stroke="#5FA893" stroke-width="0.8"/>
<line x1="96.61" y1="369.97" x2="96.61" y2="402.42" stroke="#5FA893" stroke-width="0.8"/>
<line x1="94.01" y1="402.42" x2="99.21" y2="402.42" stroke="#5FA893" stroke-width="0.8"/>
<polyline points="57.50,496.58 64.61,484.99 71.72,477.49 82.39,454.50 89.50,432.48 96.61,383.27" fill="none" stroke="#4F9C88" stroke-width="1.25" stroke-linejoin="round"/>
<rect x="54.90" y="493.98" width="5.20" height="5.20" fill="#4F9C88"/>
<rect x="62.01" y="482.39" width="5.20" height="5.20" fill="#4F9C88"/>
<rect x="69.12" y="474.89" width="5.20" height="5.20" fill="#4F9C88"/>
<rect x="79.79" y="451.90" width="5.20" height="5.20" fill="#4F9C88"/>
<rect x="86.90" y="429.88" width="5.20" height="5.20" fill="#4F9C88"/>
<rect x="94.01" y="380.67" width="5.20" height="5.20" fill="#4F9C88"/>
<line x1="64.61" y1="487.86" x2="64.61" y2="492.12" stroke="#E0A060" stroke-width="0.8"/>
<line x1="62.01" y1="487.86" x2="67.21" y2="487.86" stroke="#E0A060" stroke-width="0.8"/>
<line x1="62.01" y1="492.12" x2="67.21" y2="492.12" stroke="#E0A060" stroke-width="0.8"/>
<line x1="71.72" y1="497.70" x2="71.72" y2="499.83" stroke="#E0A060" stroke-width="0.8"/>
<line x1="69.12" y1="497.70" x2="74.32" y2="497.70" stroke="#E0A060" stroke-width="0.8"/>
<line x1="69.12" y1="499.83" x2="74.32" y2="499.83" stroke="#E0A060" stroke-width="0.8"/>
<line x1="82.39" y1="494.67" x2="82.39" y2="497.86" stroke="#E0A060" stroke-width="0.8"/>
<line x1="79.79" y1="494.67" x2="84.99" y2="494.67" stroke="#E0A060" stroke-width="0.8"/>
<line x1="79.79" y1="497.86" x2="84.99" y2="497.86" stroke="#E0A060" stroke-width="0.8"/>
<line x1="89.50" y1="467.75" x2="89.50" y2="476.26" stroke="#E0A060" stroke-width="0.8"/>
<line x1="86.90" y1="467.75" x2="92.10" y2="467.75" stroke="#E0A060" stroke-width="0.8"/>
<line x1="86.90" y1="476.26" x2="92.10" y2="476.26" stroke="#E0A060" stroke-width="0.8"/>
<line x1="96.61" y1="397.84" x2="96.61" y2="419.12" stroke="#E0A060" stroke-width="0.8"/>
<line x1="94.01" y1="397.84" x2="99.21" y2="397.84" stroke="#E0A060" stroke-width="0.8"/>
<line x1="94.01" y1="419.12" x2="99.21" y2="419.12" stroke="#E0A060" stroke-width="0.8"/>
<polyline points="57.50,496.58 64.61,489.99 71.72,498.77 82.39,496.26 89.50,472.01 96.61,408.48" fill="none" stroke="#D07C2E" stroke-width="1.25" stroke-linejoin="round"/>
<circle cx="57.50" cy="496.58" r="2.75" fill="#D07C2E"/>
<circle cx="64.61" cy="489.99" r="2.75" fill="#D07C2E"/>
<circle cx="71.72" cy="498.77" r="2.75" fill="#D07C2E"/>
<circle cx="82.39" cy="496.26" r="2.75" fill="#D07C2E"/>
<circle cx="89.50" cy="472.01" r="2.75" fill="#D07C2E"/>
<circle cx="96.61" cy="408.48" r="2.75" fill="#D07C2E"/>
<circle cx="57.50" cy="496.58" r="2.75" fill="#9C9C9C"/>
<line x1="283.10" y1="412.50" x2="292.90" y2="412.50" stroke="#9C9C9C" stroke-width="1.1"/>
<circle cx="288.00" cy="412.50" r="2.48" fill="#9C9C9C"/>
<text x="296.30" y="415.40" font-size="8.25" font-weight="normal" fill="#000" text-anchor="start">Vehicle control i.v, SD</text>
<line x1="283.10" y1="421.25" x2="292.90" y2="421.25" stroke="#4F9C88" stroke-width="1.1"/>
<rect x="285.66" y="418.91" width="4.68" height="4.68" fill="#4F9C88"/>
<text x="296.30" y="424.15" font-size="8.25" font-weight="normal" fill="#000" text-anchor="start">Venetoclax 100 mg/kg PO, QD</text>
<line x1="283.10" y1="430.00" x2="292.90" y2="430.00" stroke="#D07C2E" stroke-width="1.1"/>
<circle cx="288.00" cy="430.00" r="2.48" fill="#D07C2E"/>
<text x="296.30" y="432.90" font-size="8.25" font-weight="normal" fill="#000" text-anchor="start">KT-253 3 mg/kg i.v, SD</text>
<line x1="283.10" y1="439.25" x2="292.90" y2="439.25" stroke="#78A6DE" stroke-width="1.1"/>
<polygon points="288.00,436.55 290.70,441.41 285.30,441.41" fill="#78A6DE"/>
<text x="296.30" y="442.15" font-size="8.25" font-weight="normal" fill="#000" text-anchor="start">KT-253 3 mg/kg i.v, SD + venetoclax 50 mg/kg PO, QD × 3W</text>
<line x1="283.10" y1="447.50" x2="292.90" y2="447.50" stroke="#C4C068" stroke-width="1.1"/>
<polygon points="288.00,450.02 290.52,445.48 285.48,445.48" fill="#C4C068"/>
<text x="296.30" y="450.40" font-size="8.25" font-weight="normal" fill="#000" text-anchor="start">KT-253 3 mg/kg i.v, SD + venetoclax 100 mg/kg PO, QD × 3</text>
<line x1="283.10" y1="456.25" x2="292.90" y2="456.25" stroke="#B4573C" stroke-width="1.1"/>
<polygon points="288.00,453.55 290.70,456.25 288.00,458.95 285.30,456.25" fill="#B4573C"/>
<text x="296.30" y="459.15" font-size="8.25" font-weight="normal" fill="#000" text-anchor="start">KT-253 3 mg/kg i.v, SD + venetoclax 100 mg/kg PO QD × 1W</text>
</g>
<g id="panelD">
<text x="0.70" y="547.40" font-size="12.5" font-weight="bold" fill="#000" text-anchor="start">D</text>
<line x1="61.90" y1="554.80" x2="61.90" y2="689.00" stroke="#6c6c6c" stroke-width="1.2"/>
<line x1="61.40" y1="688.50" x2="490.50" y2="688.50" stroke="#6c6c6c" stroke-width="1.2"/>
<line x1="59.30" y1="688.50" x2="61.90" y2="688.50" stroke="#6c6c6c" stroke-width="0.9"/>
<text x="55.80" y="691.60" font-size="9.6" font-weight="normal" fill="#000" text-anchor="end">0</text>
<line x1="59.30" y1="655.20" x2="61.90" y2="655.20" stroke="#6c6c6c" stroke-width="0.9"/>
<text x="55.80" y="658.30" font-size="9.6" font-weight="normal" fill="#000" text-anchor="end">25</text>
<line x1="59.30" y1="621.90" x2="61.90" y2="621.90" stroke="#6c6c6c" stroke-width="0.9"/>
<text x="55.80" y="625.00" font-size="9.6" font-weight="normal" fill="#000" text-anchor="end">50</text>
<line x1="59.30" y1="588.60" x2="61.90" y2="588.60" stroke="#6c6c6c" stroke-width="0.9"/>
<text x="55.80" y="591.70" font-size="9.6" font-weight="normal" fill="#000" text-anchor="end">75</text>
<line x1="59.30" y1="555.30" x2="61.90" y2="555.30" stroke="#6c6c6c" stroke-width="0.9"/>
<text x="55.80" y="558.40" font-size="9.6" font-weight="normal" fill="#000" text-anchor="end">100</text>
<line x1="61.90" y1="688.50" x2="61.90" y2="691.10" stroke="#6c6c6c" stroke-width="0.9"/>
<text x="61.90" y="701.90" font-size="9.6" font-weight="normal" fill="#000" text-anchor="middle">0</text>
<line x1="147.52" y1="688.50" x2="147.52" y2="691.10" stroke="#6c6c6c" stroke-width="0.9"/>
<text x="147.52" y="701.90" font-size="9.6" font-weight="normal" fill="#000" text-anchor="middle">30</text>
<line x1="233.14" y1="688.50" x2="233.14" y2="691.10" stroke="#6c6c6c" stroke-width="0.9"/>
<text x="233.14" y="701.90" font-size="9.6" font-weight="normal" fill="#000" text-anchor="middle">60</text>
<line x1="318.76" y1="688.50" x2="318.76" y2="691.10" stroke="#6c6c6c" stroke-width="0.9"/>
<text x="318.76" y="701.90" font-size="9.6" font-weight="normal" fill="#000" text-anchor="middle">90</text>
<line x1="404.38" y1="688.50" x2="404.38" y2="691.10" stroke="#6c6c6c" stroke-width="0.9"/>
<text x="404.38" y="701.90" font-size="9.6" font-weight="normal" fill="#000" text-anchor="middle">120</text>
<line x1="490.00" y1="688.50" x2="490.00" y2="691.10" stroke="#6c6c6c" stroke-width="0.9"/>
<text x="490.00" y="701.90" font-size="9.6" font-weight="normal" fill="#000" text-anchor="middle">150</text>
<text transform="translate(22.20,622.20) rotate(-90)" font-size="9.64" font-weight="bold" fill="#000" text-anchor="middle">Percent animals remaining</text>
<text transform="translate(33.90,622.10) rotate(-90)" font-size="9.64" font-weight="bold" fill="#000" text-anchor="middle">on study</text>
<text x="287.60" y="716.80" font-size="9.45" font-weight="bold" fill="#000" text-anchor="middle">Days after treatment</text>
<path d="M201.75,555.30 L201.75,555.30 L201.75,599.66 L221.72,599.66 L221.72,621.90 L290.22,621.90 L290.22,644.14 L470.02,644.14 L470.02,644.14" fill="none" stroke="#C4C068" stroke-width="1.45" stroke-linejoin="miter"/>
<path d="M221.72,555.30 L221.72,555.30 L221.72,577.54 L230.29,577.54 L230.29,599.66 L470.02,599.66 L470.02,599.66" fill="none" stroke="#7FAAE4" stroke-width="1.45" stroke-linejoin="miter"/>
<path d="M93.29,555.30 L241.70,555.30 L241.70,577.54 L470.02,577.54 L470.02,577.54" fill="none" stroke="#B4573C" stroke-width="1.45" stroke-linejoin="miter"/>
<path d="M87.59,555.30 L87.59,555.30 L87.59,599.66 L93.29,599.66 L93.29,688.50" fill="none" stroke="#4F9C88" stroke-width="1.45" stroke-linejoin="miter"/>
<path d="M81.88,555.30 L93.29,555.30 L93.29,666.26 L101.86,666.26 L101.86,688.50" fill="none" stroke="#D07C2E" stroke-width="1.45" stroke-linejoin="miter"/>
<path d="M61.90,555.30 L81.88,555.30 L81.88,644.14 L87.59,644.14 L87.59,688.50" fill="none" stroke="#9C9C9C" stroke-width="1.45" stroke-linejoin="miter"/>
<text x="387.50" y="575.00" font-size="8.3" font-weight="normal" fill="#000" text-anchor="start">5/6 tumor free at EoS</text>
<text x="387.50" y="596.90" font-size="8.3" font-weight="normal" fill="#000" text-anchor="start">4/6 tumor free at EoS</text>
<text x="387.50" y="640.90" font-size="8.3" font-weight="normal" fill="#000" text-anchor="start">2/6 tumor free at EoS</text>
<text x="473.00" y="581.00" font-size="8.5" font-weight="bold" fill="#000" text-anchor="start">*</text>
<text x="471.20" y="602.90" font-size="8.5" font-weight="bold" fill="#000" text-anchor="start">**</text>
<text x="471.20" y="647.30" font-size="8.5" font-weight="bold" fill="#000" text-anchor="start">**</text>
<line x1="110.85" y1="634.50" x2="120.65" y2="634.50" stroke="#9C9C9C" stroke-width="1.1"/>
<circle cx="115.75" cy="634.50" r="2.48" fill="#9C9C9C"/>
<text x="124.05" y="637.40" font-size="8.25" font-weight="normal" fill="#000" text-anchor="start">Vehicle control i.v, SD</text>
<line x1="110.85" y1="643.25" x2="120.65" y2="643.25" stroke="#4F9C88" stroke-width="1.1"/>
<rect x="113.41" y="640.91" width="4.68" height="4.68" fill="#4F9C88"/>
<text x="124.05" y="646.15" font-size="8.25" font-weight="normal" fill="#000" text-anchor="start">Venetoclax 100 mg/kg PO, QD</text>
<line x1="110.85" y1="651.75" x2="120.65" y2="651.75" stroke="#D07C2E" stroke-width="1.1"/>
<circle cx="115.75" cy="651.75" r="2.48" fill="#D07C2E"/>
<text x="124.05" y="654.65" font-size="8.25" font-weight="normal" fill="#000" text-anchor="start">KT-253 3 mg/kg i.v, SD</text>
<line x1="110.85" y1="660.75" x2="120.65" y2="660.75" stroke="#78A6DE" stroke-width="1.1"/>
<polygon points="115.75,658.05 118.45,662.91 113.05,662.91" fill="#78A6DE"/>
<text x="124.05" y="663.65" font-size="8.25" font-weight="normal" fill="#000" text-anchor="start">KT-253 3 mg/kg i.v, SD + venetoclax 50 mg/kg PO, QD × 3W</text>
<line x1="110.85" y1="669.50" x2="120.65" y2="669.50" stroke="#C4C068" stroke-width="1.1"/>
<polygon points="115.75,672.02 118.27,667.48 113.23,667.48" fill="#C4C068"/>
<text x="124.05" y="672.40" font-size="8.25" font-weight="normal" fill="#000" text-anchor="start">KT-253 3 mg/kg i.v, SD + venetoclax 100 mg/kg PO, QD × 3</text>
<line x1="110.85" y1="678.00" x2="120.65" y2="678.00" stroke="#B4573C" stroke-width="1.1"/>
<polygon points="115.75,675.30 118.45,678.00 115.75,680.70 113.05,678.00" fill="#B4573C"/>
<text x="124.05" y="680.90" font-size="8.25" font-weight="normal" fill="#000" text-anchor="start">KT-253 3 mg/kg i.v, SD + venetoclax 100 mg/kg PO QD × 1W</text>
</g>
</svg>
</body>
</html>
